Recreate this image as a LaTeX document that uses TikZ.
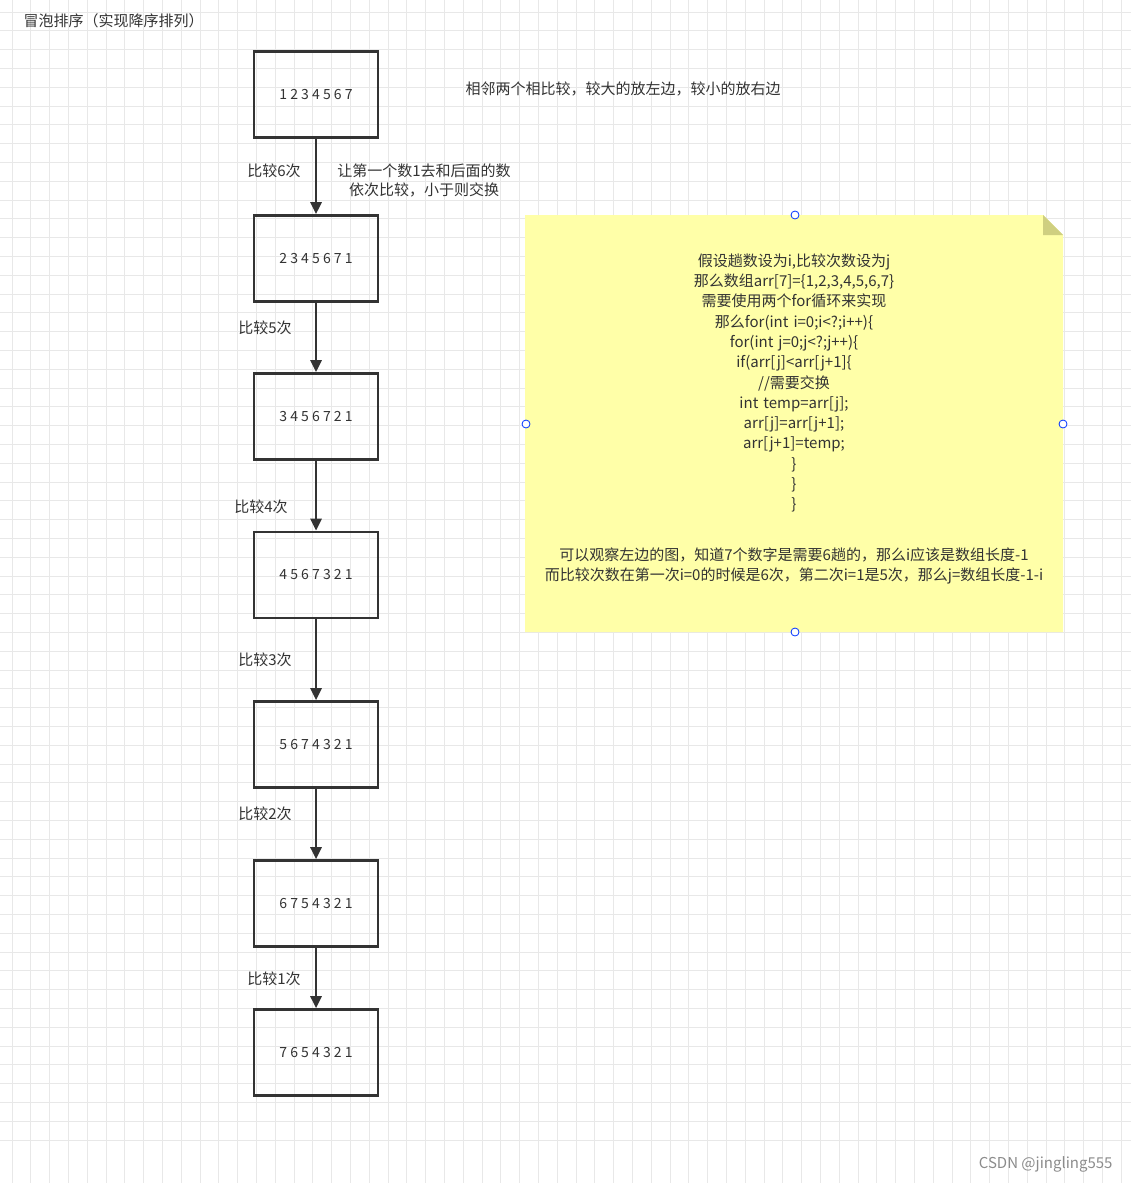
\documentclass[tikz,border=0pt]{standalone}
\usepackage{fontspec}
\setmainfont{Noto Sans CJK SC}
\usetikzlibrary{arrows.meta}
\definecolor{gridc}{HTML}{E8E8E8}
\definecolor{note}{HTML}{FFFFA8}
\definecolor{fold}{HTML}{CFCF80}
\definecolor{txt}{HTML}{333333}
\begin{document}
\begin{tikzpicture}[x=1pt,y=-1pt,
  numbox/.style={draw=txt,line width=2.6pt,minimum width=124pt,minimum height=86pt,inner sep=0pt,font=\fontsize{14}{16}\selectfont,text=txt},
  lbl/.style={font=\fontsize{15}{19}\selectfont,text=txt,align=center},
  arr/.style={draw=txt,line width=2.6pt,-{Triangle[length=12pt,width=11pt]}},
  handle/.style={circle,draw=blue!80!cyan,fill=white,line width=0.8pt,minimum size=8pt,inner sep=0pt}]
\useasboundingbox (0,0) rectangle (1131,1183);
\fill[white] (0,0) rectangle (1131,1183);
\foreach \i in {0,...,60} {
  \draw[gridc,line width=0.8pt] ({12+18.8*\i},0) -- ({12+18.8*\i},1183);
  \draw[gridc,line width=0.8pt] (0,{12+18.8*\i}) -- (1131,{12+18.8*\i});
}
\node[lbl,anchor=west] (title) at (20,21) {冒泡排序（实现降序排列）};
\node[lbl] (rule) at (623,89) {相邻两个相比较，较大的放左边，较小的放右边};
\node[numbox] (b1) at (316,94.5) {1 2 3 4 5 6 7};
\node[numbox] (b2) at (316,258.5) {2 3 4 5 6 7 1};
\node[numbox] (b3) at (316,416.5) {3 4 5 6 7 2 1};
\node[numbox] (b4) at (316,575) {4 5 6 7 3 2 1};
\node[numbox] (b5) at (316,744.5) {5 6 7 4 3 2 1};
\node[numbox] (b6) at (316,903.5) {6 7 5 4 3 2 1};
\node[numbox] (b7) at (316,1052.5) {7 6 5 4 3 2 1};
\draw[arr] (b1) -- (b2);
\draw[arr] (b2) -- (b3);
\draw[arr] (b3) -- (b4);
\draw[arr] (b4) -- (b5);
\draw[arr] (b5) -- (b6);
\draw[arr] (b6) -- (b7);
\node[lbl] (l1) at (274,171) {比较6次};
\node[lbl,font=\fontsize{15}{19.5}\selectfont] (l1b) at (424,180.5) {让第一个数1去和后面的数\\依次比较，小于则交换};
\node[lbl] (l2) at (265,328) {比较5次};
\node[lbl] (l3) at (261,507) {比较4次};
\node[lbl] (l4) at (265,660) {比较3次};
\node[lbl] (l5) at (265,814) {比较2次};
\node[lbl] (l6) at (274,979) {比较1次};
% note
\fill[note] (525,215) -- (1043,215) -- (1063,235) -- (1063,632) -- (525,632) -- cycle;
\fill[fold] (1043,215) -- (1063,235) -- (1043,235) -- cycle;
\node[lbl,font=\fontsize{15}{20.3}\selectfont,text width=530pt] (code) at (794,383) {假设趟数设为i,比较次数设为j\\那么数组arr[7]=\{1,2,3,4,5,6,7\}\\需要使用两个for循环来实现\\那么for(int i=0;i<?;i++)\{\\for(int j=0;j<?;j++)\{\\if(arr[j]<arr[j+1]\{\\//需要交换\\int temp=arr[j];\\arr[j]=arr[j+1];\\arr[j+1]=temp;\\\}\\\}\\\}};
\node[lbl,font=\fontsize{15}{20.3}\selectfont,text width=520pt] (obs) at (794,566) {可以观察左边的图，知道7个数字是需要6趟的，那么i应该是数组长度-1 而比较次数在第一次i=0的时候是6次，第二次i=1是5次，那么j=数组长度-1-i};
\node[handle] (h1) at (795,215) {};
\node[handle] (h2) at (526,424) {};
\node[handle] (h3) at (1063,424) {};
\node[handle] (h4) at (795,632) {};
\node[lbl,text=gray!90,anchor=east] (wm) at (1116,1164) {CSDN @jingling555};
\end{tikzpicture}
\end{document}
